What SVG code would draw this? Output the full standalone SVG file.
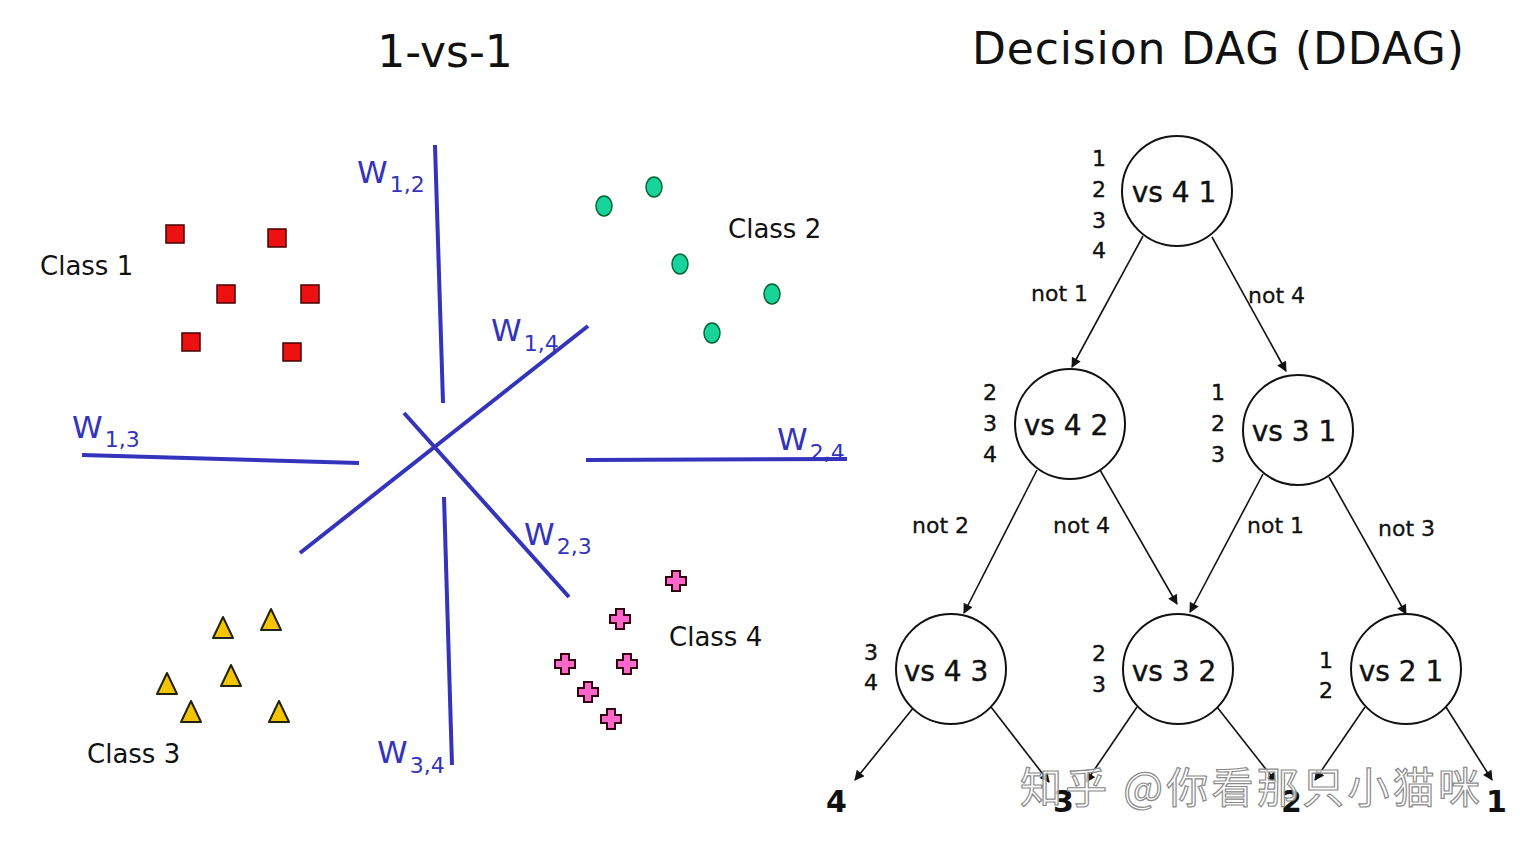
<svg xmlns="http://www.w3.org/2000/svg" width="1520" height="848" viewBox="0 0 1520 848">
<defs>
<style>
.t{font-family:"DejaVu Sans",Verdana,sans-serif;fill:#111}
.title{font-size:44px}
.cls{font-size:26px}
.w{font-family:"DejaVu Sans",Verdana,sans-serif;fill:#3333bb;font-size:31px}
.ws{font-size:22px}
.hp{stroke:#3333bb;stroke-width:4;stroke-linecap:butt;fill:none}
.sq{fill:#ee1111;stroke:#400;stroke-width:1.5}
.ci{fill:#19d49a;stroke:#063;stroke-width:1.5}
.tr{fill:#f5c400;stroke:#221;stroke-width:2;stroke-linejoin:round}
.cr{fill:#ff66cc;stroke:#301;stroke-width:2}
.node circle{fill:#fff;stroke:#111;stroke-width:2}
.nl{font-size:28px;text-anchor:middle;stroke:#111;stroke-width:0.4}
.side{font-size:22px;stroke:#111;stroke-width:0.4}
.el{font-size:22px;stroke:#111;stroke-width:0.3}
.leaf{font-size:30px;font-weight:bold}
.edge{stroke:#111;stroke-width:1.6;fill:none;marker-end:url(#ah)}
</style>
<marker id="ah" viewBox="0 0 10 10" refX="9" refY="5" markerWidth="12" markerHeight="10" orient="auto" markerUnits="userSpaceOnUse">
<path d="M0,0 L10,5 L0,10 z" fill="#111"/>
</marker>
<rect id="sq" x="-9" y="-9" width="18" height="18"/>
<path id="tri" d="M0,-11 L10,10 L-10,10 Z"/>
<path id="cross" d="M-4,-10 H4 V-4 H10 V4 H4 V10 H-4 V4 H-10 V-4 H-4 Z"/>
</defs>
<rect width="1520" height="848" fill="#fff"/>

<text class="t title" x="445" y="67" text-anchor="middle">1-vs-1</text>
<text class="t title" x="1218" y="64" text-anchor="middle" textLength="492">Decision DAG (DDAG)</text>

<g id="hyperplanes">
<line class="hp" x1="435" y1="145" x2="443" y2="403"/>
<line class="hp" x1="82" y1="455" x2="359" y2="463"/>
<line class="hp" x1="300" y1="553" x2="588" y2="326"/>
<line class="hp" x1="404" y1="413" x2="569" y2="597"/>
<line class="hp" x1="586" y1="460" x2="847" y2="459"/>
<line class="hp" x1="444" y1="497" x2="452" y2="765"/>
</g>
<g id="hp-labels">
<text class="w" x="357" y="183">W<tspan class="ws" dx="2" dy="9">1,2</tspan></text>
<text class="w" x="72" y="438">W<tspan class="ws" dx="2" dy="9">1,3</tspan></text>
<text class="w" x="491" y="341">W<tspan class="ws" dx="2" dy="10">1,4</tspan></text>
<text class="w" x="777" y="450">W<tspan class="ws" dx="2" dy="10">2,4</tspan></text>
<text class="w" x="524" y="545">W<tspan class="ws" dx="2" dy="9">2,3</tspan></text>
<text class="w" x="377" y="763">W<tspan class="ws" dx="2" dy="10">3,4</tspan></text>
</g>

<g id="class1">
<use href="#sq" class="sq" x="175" y="234"/>
<use href="#sq" class="sq" x="277" y="238"/>
<use href="#sq" class="sq" x="226" y="294"/>
<use href="#sq" class="sq" x="310" y="294"/>
<use href="#sq" class="sq" x="191" y="342"/>
<use href="#sq" class="sq" x="292" y="352"/>
<text class="t cls" x="40" y="275">Class 1</text>
</g>
<g id="class2">
<ellipse class="ci" cx="604" cy="206" rx="8" ry="10"/>
<ellipse class="ci" cx="654" cy="187" rx="8" ry="10"/>
<ellipse class="ci" cx="680" cy="264" rx="8" ry="10"/>
<ellipse class="ci" cx="772" cy="294" rx="8" ry="10"/>
<ellipse class="ci" cx="712" cy="333" rx="8" ry="10"/>
<text class="t cls" x="728" y="238">Class 2</text>
</g>
<g id="class3">
<use href="#tri" class="tr" x="223" y="628"/>
<use href="#tri" class="tr" x="271" y="620"/>
<use href="#tri" class="tr" x="231" y="676"/>
<use href="#tri" class="tr" x="167" y="684"/>
<use href="#tri" class="tr" x="191" y="712"/>
<use href="#tri" class="tr" x="279" y="712"/>
<text class="t cls" x="87" y="763">Class 3</text>
</g>
<g id="class4">
<use href="#cross" class="cr" x="676" y="581"/>
<use href="#cross" class="cr" x="620" y="619"/>
<use href="#cross" class="cr" x="565" y="664"/>
<use href="#cross" class="cr" x="627" y="664"/>
<use href="#cross" class="cr" x="588" y="692"/>
<use href="#cross" class="cr" x="611" y="719"/>
<text class="t cls" x="669" y="646">Class 4</text>
</g>

<g id="connectors">
<line class="edge" x1="1143" y1="236" x2="1072" y2="367"/>
<line class="edge" x1="1212" y1="237" x2="1286" y2="371"/>
<line class="edge" x1="1037" y1="470" x2="964" y2="613"/>
<line class="edge" x1="1100" y1="470" x2="1177" y2="604"/>
<line class="edge" x1="1263" y1="474" x2="1190" y2="612"/>
<line class="edge" x1="1329" y1="477" x2="1406" y2="614"/>
<line class="edge" x1="914" y1="707" x2="855" y2="780"/>
<line class="edge" x1="991" y1="707" x2="1049" y2="782"/>
<line class="edge" x1="1137" y1="707" x2="1086" y2="782"/>
<line class="edge" x1="1217" y1="707" x2="1276" y2="782"/>
<line class="edge" x1="1365" y1="707" x2="1315" y2="780"/>
<line class="edge" x1="1446" y1="707" x2="1492" y2="780"/>
<text class="t el" x="1031" y="301">not 1</text>
<text class="t el" x="1248" y="303">not 4</text>
<text class="t el" x="912" y="533">not 2</text>
<text class="t el" x="1053" y="533">not 4</text>
<text class="t el" x="1247" y="533">not 1</text>
<text class="t el" x="1378" y="536">not 3</text>
</g>

<g id="n41" class="node">
<circle cx="1177" cy="191" r="55"/>
<text class="t nl" x="1174" y="202">vs 4 1</text>
<text class="t side" x="1092" y="166">1</text>
<text class="t side" x="1092" y="197">2</text>
<text class="t side" x="1092" y="228">3</text>
<text class="t side" x="1092" y="258">4</text>
</g>
<g id="n42" class="node">
<circle cx="1070" cy="424" r="55"/>
<text class="t nl" x="1066" y="435">vs 4 2</text>
<text class="t side" x="983" y="400">2</text>
<text class="t side" x="983" y="431">3</text>
<text class="t side" x="983" y="462">4</text>
</g>
<g id="n31" class="node">
<circle cx="1298" cy="430" r="55"/>
<text class="t nl" x="1294" y="441">vs 3 1</text>
<text class="t side" x="1211" y="400">1</text>
<text class="t side" x="1211" y="431">2</text>
<text class="t side" x="1211" y="462">3</text>
</g>
<g id="n43" class="node">
<circle cx="951" cy="669" r="55"/>
<text class="t nl" x="946" y="681">vs 4 3</text>
<text class="t side" x="864" y="660">3</text>
<text class="t side" x="864" y="690">4</text>
</g>
<g id="n32" class="node">
<circle cx="1178" cy="669" r="55"/>
<text class="t nl" x="1174" y="681">vs 3 2</text>
<text class="t side" x="1092" y="661">2</text>
<text class="t side" x="1092" y="692">3</text>
</g>
<g id="n21" class="node">
<circle cx="1406" cy="669" r="55"/>
<text class="t nl" x="1401" y="681">vs 2 1</text>
<text class="t side" x="1319" y="668">1</text>
<text class="t side" x="1319" y="698">2</text>
</g>

<g id="leaves">
<text class="t leaf" x="826" y="812">4</text>
<text class="t leaf" x="1053" y="812">3</text>
<text class="t leaf" x="1281" y="812">2</text>
<text class="t leaf" x="1486" y="812">1</text>
</g>

<text x="1020" y="803" font-family="'Noto Sans CJK SC',sans-serif" font-size="42" textLength="460" fill="#fff" fill-opacity="0.75" stroke="#8a8a8a" stroke-width="1.2">知乎 @你看那只小猫咪</text>
</svg>
